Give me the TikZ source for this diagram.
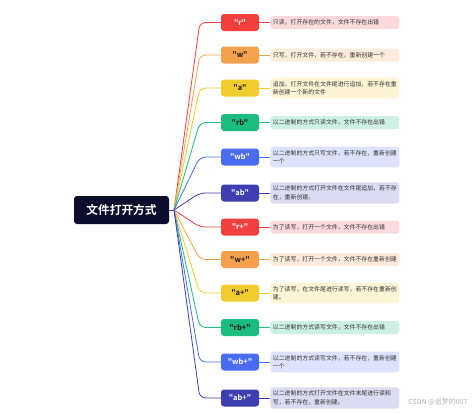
\documentclass[tikz,border=0pt]{standalone}
\usepackage{fontspec}
\newfontfamily\cjk[BoldFont={Noto Sans CJK SC Bold}]{Noto Sans CJK SC}
\usetikzlibrary{positioning}
\usepackage{xcolor}

\definecolor{rootnavy}{HTML}{0C0C2C}
\definecolor{mred}{HTML}{F2403F}
\definecolor{mredlight}{HTML}{FCDADB}
\definecolor{morange}{HTML}{F5A14E}
\definecolor{morangelight}{HTML}{FDEBDB}
\definecolor{myellow}{HTML}{F2CB2C}
\definecolor{myellowlight}{HTML}{FDF4D6}
\definecolor{mgreen}{HTML}{1CBC80}
\definecolor{mgreenlight}{HTML}{CEF0E3}
\definecolor{mblue}{HTML}{4A6CF2}
\definecolor{mbluelight}{HTML}{DDE3FC}
\definecolor{mindigo}{HTML}{3E3EB3}
\definecolor{mindigolight}{HTML}{DBDBF2}
\definecolor{descgray}{HTML}{333333}
\definecolor{darklbl}{HTML}{1A1A1A}

\begin{document}
\begin{tikzpicture}[
    x=1pt, y=-1pt,
    root/.style={fill=rootnavy, text=white, rounded corners=3pt, minimum width=95pt, minimum height=28pt, inner sep=0pt, font=\cjk\bfseries\fontsize{11.7}{14}\selectfont},
    mode/.style={rounded corners=3pt, minimum width=38pt, minimum height=17pt, inner sep=0pt, font=\cjk\bfseries\fontsize{7.5}{9}\selectfont},
    desc/.style={rounded corners=3pt, text width=124pt, inner xsep=2.5pt, inner ysep=3.5pt, minimum height=13pt, align=left, text=descgray, font=\cjk\fontsize{5.9}{8.5}\selectfont},
    redmode/.style={mode, fill=mred, text=white},
    orangemode/.style={mode, fill=morange, text=darklbl},
    yellowmode/.style={mode, fill=myellow, text=darklbl},
    greenmode/.style={mode, fill=mgreen, text=darklbl},
    bluemode/.style={mode, fill=mblue, text=white},
    indigomode/.style={mode, fill=mindigo, text=white},
    reddesc/.style={desc, fill=mredlight},
    orangedesc/.style={desc, fill=morangelight},
    yellowdesc/.style={desc, fill=myellowlight},
    greendesc/.style={desc, fill=mgreenlight},
    bluedesc/.style={desc, fill=mbluelight},
    indigodesc/.style={desc, fill=mindigolight},
    link/.style={line width=0.8pt, rounded corners=6pt}
]
\useasboundingbox[fill=white] (0,0) rectangle (474,413);

\node[root] (root) at (121.5,210) {文件打开方式};
\coordinate (fan) at (174,210);

% modes
\node[redmode] (r) at (240,22.5) {"r"};
\node[orangemode] (w) at (240,55) {"w"};
\node[yellowmode] (a) at (240,88) {"a"};
\node[greenmode] (rb) at (240,122.5) {"rb"};
\node[bluemode] (wb) at (240,157) {"wb"};
\node[indigomode] (ab) at (240,193) {"ab"};
\node[redmode] (rp) at (240,227) {"r+"};
\node[orangemode] (wp) at (240,259.5) {"w+"};
\node[yellowmode] (ap) at (240,293) {"a+"};
\node[greenmode] (rbp) at (240,327.5) {"rb+"};
\node[bluemode] (wbp) at (240,362) {"wb+"};
\node[indigomode] (abp) at (240,398) {"ab+"};

% descriptions
\node[reddesc, right=11pt of r] (rdesc) {只读，打开存在的文件，文件不存在出错};
\node[orangedesc, right=11pt of w] (wdesc) {只写，打开文件，若不存在，重新创建一个};
\node[yellowdesc, right=11pt of a] (adesc) {追加，打开文件在文件尾进行追加，若不存在重\\新创建一个新的文件};
\node[greendesc, right=11pt of rb] (rbdesc) {以二进制的方式只读文件，文件不存在出错};
\node[bluedesc, right=11pt of wb] (wbdesc) {以二进制的方式只写文件，若不存在，重新创建\\一个};
\node[indigodesc, right=11pt of ab] (abdesc) {以二进制的方式打开文件在文件尾追加，若不存\\在，重新创建。};
\node[reddesc, right=11pt of rp] (rpdesc) {为了读写，打开一个文件，文件不存在出错};
\node[orangedesc, right=11pt of wp] (wpdesc) {为了读写，打开一个文件，文件不存在重新创建};
\node[yellowdesc, right=11pt of ap] (apdesc) {为了读写，在文件尾进行读写，若不存在重新创\\建。};
\node[greendesc, right=11pt of rbp] (rbpdesc) {以二进制的方式读写文件，文件不存在出错};
\node[bluedesc, right=11pt of wbp] (wbpdesc) {以二进制的方式读写文件，若不存在，重新创建\\一个};
\node[indigodesc, right=11pt of abp] (abpdesc) {以二进制的方式打开文件在文件末尾进行读和\\写，若不存在，重新创建。};

% root to modes
\draw[link, mindigo] (root.east) -- (fan);
\draw[link, mred] (fan) -- ([xshift=-21pt]r.west) -- (r.west);
\draw[link, morange] (fan) -- ([xshift=-21pt]w.west) -- (w.west);
\draw[link, myellow] (fan) -- ([xshift=-21pt]a.west) -- (a.west);
\draw[link, mgreen] (fan) -- ([xshift=-21pt]rb.west) -- (rb.west);
\draw[link, mblue] (fan) -- ([xshift=-21pt]wb.west) -- (wb.west);
\draw[link, mindigo] (fan) -- ([xshift=-21pt]ab.west) -- (ab.west);
\draw[link, mred] (fan) -- ([xshift=-21pt]rp.west) -- (rp.west);
\draw[link, morange] (fan) -- ([xshift=-21pt]wp.west) -- (wp.west);
\draw[link, myellow] (fan) -- ([xshift=-21pt]ap.west) -- (ap.west);
\draw[link, mgreen] (fan) -- ([xshift=-21pt]rbp.west) -- (rbp.west);
\draw[link, mblue] (fan) -- ([xshift=-21pt]wbp.west) -- (wbp.west);
\draw[link, mindigo] (fan) -- ([xshift=-21pt]abp.west) -- (abp.west);

% modes to descriptions
\draw[link, mred] (r.east) -- (rdesc.west);
\draw[link, morange] (w.east) -- (wdesc.west);
\draw[link, myellow] (a.east) -- (adesc.west);
\draw[link, mgreen] (rb.east) -- (rbdesc.west);
\draw[link, mblue] (wb.east) -- (wbdesc.west);
\draw[link, mindigo] (ab.east) -- (abdesc.west);
\draw[link, mred] (rp.east) -- (rpdesc.west);
\draw[link, morange] (wp.east) -- (wpdesc.west);
\draw[link, myellow] (ap.east) -- (apdesc.west);
\draw[link, mgreen] (rbp.east) -- (rbpdesc.west);
\draw[link, mblue] (wbp.east) -- (wbpdesc.west);
\draw[link, mindigo] (abp.east) -- (abpdesc.west);

\node[text=gray!60, font=\cjk\fontsize{7}{8}\selectfont, anchor=east] (credit) at (471,402) {CSDN @追梦的007};
\end{tikzpicture}
\end{document}
